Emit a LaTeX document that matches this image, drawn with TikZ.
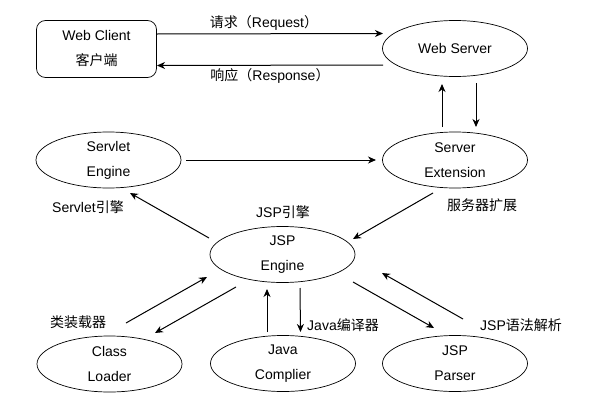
\documentclass[tikz,border=0pt]{standalone}
\usepackage{fontspec}
\setmainfont{Liberation Sans}
\newfontfamily\cjk{Noto Sans CJK SC}
\usetikzlibrary{shapes.geometric,arrows.meta}
\begin{document}
\begin{tikzpicture}[x=1pt,y=-1pt,
  every node/.style={font=\fontsize{14}{25}\selectfont, align=center, inner sep=0pt},
  ell/.style={ellipse, draw, line width=0.7pt, minimum width=145pt, minimum height=56pt},
  box/.style={rectangle, rounded corners=9pt, draw, line width=0.7pt, minimum width=120pt, minimum height=57pt},
  arr/.style={line width=1pt, -{Stealth[length=8pt,width=7pt,inset=2.5pt]}},
  lbl/.style={}]
\useasboundingbox (0,0) rectangle (595,407);
\node[box] (client) at (96.5,49) {Web Client\\{\cjk 客户端}};
\node[ell] (ws) at (455,48.5) {Web Server};
\node[ell] (se) at (455,160) {Server\\Extension};
\node[ell] (sv) at (108.5,160) {Servlet\\Engine};
\node[ell] (jsp) at (282.5,254.5) {JSP\\Engine};
\node[ell] (cl) at (109.5,364) {Class\\Loader};
\node[ell] (jc) at (283,363.5) {Java\\Complier};
\node[ell] (jp) at (455,363.5) {JSP\\Parser};

\node[lbl] (lreq) at (264,23) {{\cjk 请求（}Request{\cjk ）}};
\node[lbl] (lresp) at (270,76) {{\cjk 响应（}Response{\cjk ）}};
\node[lbl] (lsv) at (88,207) {Servlet{\cjk 引擎}};
\node[lbl] (ljsp) at (283,212) {JSP{\cjk 引擎}};
\node[lbl] (lse) at (482,205) {\cjk 服务器扩展};
\node[lbl] (lcl) at (78,322) {\cjk 类装载器};
\node[lbl] (ljc) at (343,325) {Java{\cjk 编译器}};
\node[lbl] (ljp) at (521,325) {JSP{\cjk 语法解析}};

\draw[arr] ([shift={(60.5,-15)}]client.center) -- ([shift={(-72,-15)}]ws.center);
\draw[arr] ([shift={(-72,16.5)}]ws.center) -- ([shift={(60.5,16.5)}]client.center);
\draw[arr] ([shift={(-13,-33)}]se.center) -- ([shift={(-13,35.5)}]ws.center);
\draw[arr] ([shift={(21,34.5)}]ws.center) -- ([shift={(21,-33)}]se.center);
\draw[arr] ([shift={(77.5,0)}]sv.center) -- ([shift={(-79,0)}]se.center);
\draw[arr] ([shift={(-73.5,-16.5)}]jsp.center) -- ([shift={(21.5,33)}]sv.center);
\draw[arr] ([shift={(-22,33)}]se.center) -- ([shift={(70.5,-15.5)}]jsp.center);
\draw[arr] ([shift={(16.5,-41)}]cl.center) -- ([shift={(-75.5,22.5)}]jsp.center);
\draw[arr] ([shift={(-46.5,32.5)}]jsp.center) -- ([shift={(45.5,-31)}]cl.center);
\draw[arr] ([shift={(-16,-31.5)}]jc.center) -- ([shift={(-15.5,34.5)}]jsp.center);
\draw[arr] ([shift={(17.5,33.5)}]jsp.center) -- ([shift={(17.5,-31.5)}]jc.center);
\draw[arr] ([shift={(70.5,27.5)}]jsp.center) -- ([shift={(-21,-35.5)}]jp.center);
\draw[arr] ([shift={(8,-44.5)}]jp.center) -- ([shift={(99.5,18.5)}]jsp.center);
\end{tikzpicture}
\end{document}
